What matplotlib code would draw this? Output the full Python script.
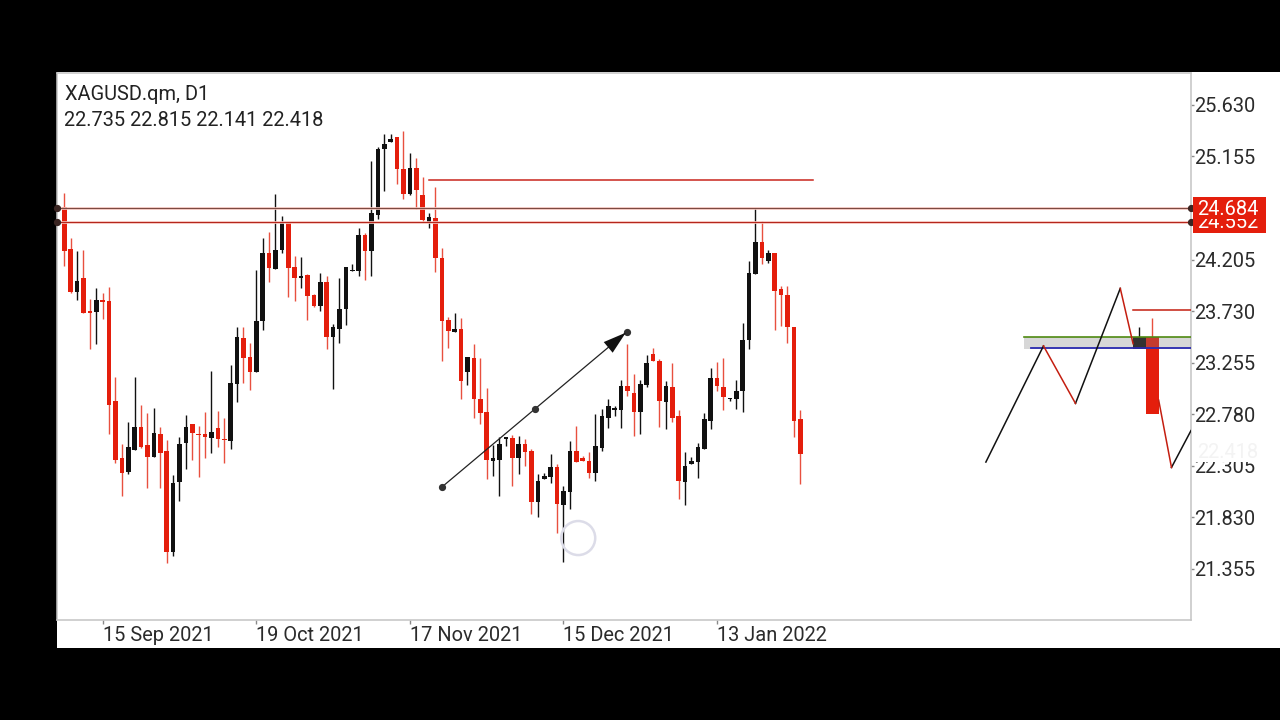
import matplotlib
matplotlib.use("Agg")
import matplotlib.pyplot as plt
from matplotlib.patches import Rectangle

plt.rcParams['font.family'] = ['Roboto', 'DejaVu Sans']

symbol_title = "XAGUSD.qm, D1"
ohlc_title = "22.735 22.815 22.141 22.418"

directions = ("RRKRRKRRRR" "KKRRKRRKKK" "RRRKRRKKRR" "KKRKKRRKRR" "KRKKKKKRKK" "KKRRKRRKRR"
              "RKRKRRRKKK" "RKRRKKKRKK" "RRRKKKKKRR" "KKRRKRRKKK" "KKRRKKKKKR" "KRRRRR")
highs = [24.82,24.40,24.28,24.29,23.84,23.94,23.90,23.95,23.12,22.51,22.71,23.12,22.87,22.79,22.84,22.66,22.54,22.22,22.57,22.77,
         22.69,22.67,22.80,23.18,22.81,22.75,23.23,23.58,23.58,23.44,24.11,24.40,24.46,24.81,24.61,24.54,24.24,24.23,24.07,23.89,
         24.08,24.05,23.61,24.04,24.14,24.16,24.50,24.45,25.11,25.24,25.36,25.36,25.33,25.39,25.19,25.14,24.97,24.63,24.87,24.31,
         23.68,23.71,23.67,23.31,23.43,23.30,23.02,22.50,22.57,22.57,22.59,22.58,22.55,22.46,22.23,22.24,22.41,22.32,22.12,22.53,
         22.67,22.40,22.43,22.78,22.83,22.92,22.86,23.10,23.43,23.15,23.10,23.33,23.39,23.29,23.09,23.25,22.82,22.43,22.39,22.52,
         22.79,23.21,23.26,23.30,22.93,23.10,23.62,24.19,24.68,24.56,24.29,24.27,23.96,23.96,23.58,22.815]
body_tops = [24.69,24.30,24.01,24.04,23.73,23.83,23.83,23.82,22.90,22.38,22.48,22.66,22.66,22.50,22.61,22.60,22.44,22.15,22.51,22.66,
             22.69,22.60,22.60,22.62,22.65,22.55,23.07,23.49,23.48,23.31,23.64,24.27,24.27,24.29,24.54,24.54,24.14,24.05,24.06,23.88,
             24.00,24.00,23.58,23.75,24.14,24.11,24.43,24.43,24.63,25.22,25.27,25.32,25.33,25.04,25.05,25.05,24.80,24.60,24.59,24.22,
             23.65,23.57,23.57,23.31,23.30,22.92,22.80,22.38,22.51,22.57,22.56,22.51,22.51,22.44,22.17,22.21,22.29,22.29,22.07,22.44,
             22.44,22.38,22.35,22.49,22.76,22.86,22.84,23.04,23.04,22.98,23.06,23.25,23.34,23.27,23.04,23.03,22.76,22.30,22.35,22.48,
             22.74,23.11,23.11,23.03,22.93,22.99,23.46,24.08,24.37,24.37,24.27,24.27,23.93,23.88,23.58,22.735]
body_bottoms = [24.28,23.91,23.91,23.71,23.71,23.72,23.81,22.87,22.36,22.24,22.25,22.45,22.48,22.39,22.39,22.42,21.51,21.51,22.16,22.52,
                22.61,22.59,22.57,22.56,22.55,22.54,22.53,23.06,23.30,23.17,23.17,23.64,24.13,24.12,24.29,24.13,24.04,24.04,23.87,23.78,
                23.78,23.49,23.49,23.57,23.75,24.10,24.10,24.28,24.28,24.62,25.22,25.29,25.04,24.81,24.81,24.85,24.57,24.55,24.22,23.64,
                23.55,23.54,23.09,23.17,22.92,22.79,22.36,22.35,22.36,22.55,22.38,22.38,22.43,21.97,21.97,22.18,22.20,21.95,21.94,22.06,
                22.34,22.35,22.24,22.24,22.47,22.75,22.82,22.82,22.99,22.80,22.80,23.05,23.27,22.90,22.89,22.75,22.17,22.16,22.32,22.34,
                22.46,22.72,23.04,22.94,22.92,22.92,22.99,23.46,24.07,24.22,24.19,23.92,23.88,23.58,22.72,22.418]
lows = [24.15,23.90,23.83,23.71,23.38,23.43,23.66,22.60,22.33,22.03,22.23,22.45,22.47,22.10,22.39,22.10,21.41,21.47,21.98,22.28,
        22.36,22.20,22.38,22.42,22.48,22.33,22.46,22.89,23.07,23.00,23.17,23.56,24.00,24.12,24.27,23.86,23.82,23.94,23.65,23.77,
        23.73,23.38,23.01,23.44,23.60,24.10,24.05,24.02,24.05,24.58,24.84,25.29,24.90,24.76,24.80,24.67,24.55,24.50,24.09,23.27,
        23.39,23.54,22.92,23.05,22.75,22.69,22.18,22.21,22.03,22.49,22.12,22.23,22.30,21.86,21.83,22.18,22.15,21.69,21.42,21.91,
        22.34,22.35,22.19,22.17,22.44,22.65,22.76,22.65,22.95,22.58,22.60,23.03,23.27,22.66,22.64,22.71,22.00,21.94,22.32,22.19,
        22.46,22.64,22.99,22.82,22.90,22.83,22.80,23.38,24.07,24.16,24.17,23.56,23.59,23.44,22.57,22.141]

ytick_values = [25.630,25.155,24.680,24.205,23.730,23.255,22.780,22.305,21.830,21.355]
xtick_positions = [6,30,54,78,102]
xtick_labels = ["15 Sep 2021","19 Oct 2021","17 Nov 2021","15 Dec 2021","13 Jan 2022"]

level_upper = 24.684
level_lower = 24.552
level_mid = 24.94
level_mid_span = [57,117]

trend_x = [59.0,73.5,87.9]
trend_y = [22.11,22.83,23.54]

touch_x, touch_y = 80.3, 21.64

zig_black = [([144,153],[22.34,23.41]),([158,165],[22.88,23.94]),([173,176.05],[22.29,22.63])]
zig_red = [([153,158],[23.41,22.88]),([165,167],[23.94,23.43]),([171,173],[22.91,22.29])]
zone_top, zone_bottom, zone_blue = 23.49, 23.38, 23.39
zone_x = 150
blue_x = 151
small_red_level = 23.74
overlay_black = (167,169,23.38,23.49,23.58)
overlay_red = (169,171,22.78,23.49,23.67)

RED = '#e41e0c'
WICK_RED = '#e8503f'
BLACK = '#111111'
W, H = 1280, 720
FS = 14.4

def fx(x): return x / W
def fy(y): return 1 - y / H

fig = plt.figure(figsize=(12.8, 7.2), dpi=100, facecolor='black')
fig.add_artist(Rectangle((fx(57), fy(648)), (W-57)/W, (648-72)/H, transform=fig.transFigure,
                         facecolor='white', edgecolor='none', zorder=-1))
ax = fig.add_axes([fx(57), fy(620), (1191-57)/W, (620-73)/H], facecolor='white')
ax.set_xlim(-1.14, 176.05)
ax.set_ylim(20.885, 25.924)

idx = list(range(len(directions)))
for i, d, hi, t, b, lo in zip(idx, directions, highs, body_tops, body_bottoms, lows):
    ax.vlines(i, lo, hi, color=WICK_RED if d == 'R' else BLACK, lw=1.0, zorder=2)
    ax.bar(i, max(t-b, 0.012), bottom=b, width=0.72, color=RED if d == 'R' else BLACK, linewidth=0, zorder=3)

for lv, c in ((level_upper, '#7c4a42'), (level_lower, '#b5261c')):
    ax.axhline(lv, color='#f8c8c0', lw=1.9, zorder=4)
    ax.axhline(lv, color=c, lw=0.8, zorder=5)
    ax.plot([-1.14, 176.05], [lv, lv], ls='none', marker='o', ms=4.2, color='#3a2522', clip_on=False, zorder=6)

ax.plot(level_mid_span, [level_mid, level_mid], color='#c9261c', lw=1.1, zorder=4)

ax.plot([trend_x[0], trend_x[-1]], [trend_y[0], trend_y[-1]], color='#222222', lw=0.9, zorder=6)
ax.plot(trend_x, trend_y, ls='none', marker='o', ms=4.2, color='#333333', zorder=7)
ax.annotate('', xy=(trend_x[2], trend_y[2]), xytext=(trend_x[1], trend_y[1]),
            arrowprops=dict(arrowstyle='-|>,head_length=1.65,head_width=0.5', color='#111111', lw=0,
                            shrinkA=0, shrinkB=1), zorder=7)

ax.scatter([touch_x], [touch_y], s=600, facecolors='none', edgecolors='#dcdce8', linewidths=1.8, zorder=8)

for xs, ys in zig_black:
    ax.plot(xs, ys, color='#111111', lw=1.1, zorder=6)
for xs, ys in zig_red:
    ax.plot(xs, ys, color='#c41e10', lw=1.1, zorder=6)
ax.vlines((overlay_black[0]+overlay_black[1])/2, overlay_black[3], overlay_black[4], color=BLACK, lw=1.0, zorder=3)
ax.vlines((overlay_red[0]+overlay_red[1])/2, overlay_red[3], overlay_red[4], color=WICK_RED, lw=1.0, zorder=3)
ax.bar((overlay_black[0]+overlay_black[1])/2, overlay_black[3]-overlay_black[2], bottom=overlay_black[2],
       width=overlay_black[1]-overlay_black[0], color=BLACK, linewidth=0, zorder=3)
ax.bar((overlay_red[0]+overlay_red[1])/2, overlay_red[3]-overlay_red[2], bottom=overlay_red[2],
       width=overlay_red[1]-overlay_red[0], color=RED, linewidth=0, zorder=3)
ax.fill_between([zone_x, 176.05], zone_bottom, zone_top, color='#7e7e7e', alpha=0.31, linewidth=0, zorder=4)
ax.plot([zone_x, 176.05], [zone_top, zone_top], color='#4f8a10', lw=1.2, zorder=5)
ax.plot([blue_x, 176.05], [zone_blue, zone_blue], color='#2a2ab0', lw=1.3, zorder=5)
ax.plot([167, 176.05], [small_red_level, small_red_level], color='#c41e10', lw=1.1, zorder=5)

for s in ax.spines.values():
    s.set_color('#c4c4c4')
    s.set_linewidth(1.1)
ax.yaxis.tick_right()
ax.set_yticks(ytick_values)
ax.set_yticklabels([f"{v:.3f}" for v in ytick_values])
ax.set_xticks(xtick_positions)
ax.set_xticklabels(xtick_labels, ha='left')
ax.tick_params(axis='y', length=2, width=1, color='#8a8a8a', pad=0.6, labelsize=FS, labelcolor='#2b2b2b')
ax.tick_params(axis='x', length=3, width=1, color='#8a8a8a', pad=1, labelsize=FS, labelcolor='#2b2b2b')

fig.text(fx(65), fy(95), symbol_title, fontsize=FS, color='#222222', va='center', ha='left')
fig.text(fx(64), fy(120), ohlc_title, fontsize=FS, color='#222222', va='center', ha='left')

fig.add_artist(Rectangle((fx(1193), fy(233)), 73/W, 22/H, transform=fig.transFigure, facecolor=RED, edgecolor='none', zorder=3))
fig.text(fx(1197), fy(223), f"{level_lower:.3f}", fontsize=FS, color='white', va='center', ha='left', zorder=4)
fig.add_artist(Rectangle((fx(1193), fy(219)), 73/W, 22/H, transform=fig.transFigure, facecolor=RED, edgecolor='none', zorder=5))
fig.text(fx(1197), fy(209), f"{level_upper:.3f}", fontsize=FS, color='white', va='center', ha='left', zorder=6)

fig.add_artist(Rectangle((fx(1194), fy(462)), 68/W, 22/H, transform=fig.transFigure, facecolor='white', edgecolor='none', zorder=3))
fig.text(fx(1197), fy(453), "22.418", fontsize=FS, color='#f3f3f3', va='center', ha='left', zorder=4)

fig.savefig('out.png', dpi=100, facecolor=fig.get_facecolor())
